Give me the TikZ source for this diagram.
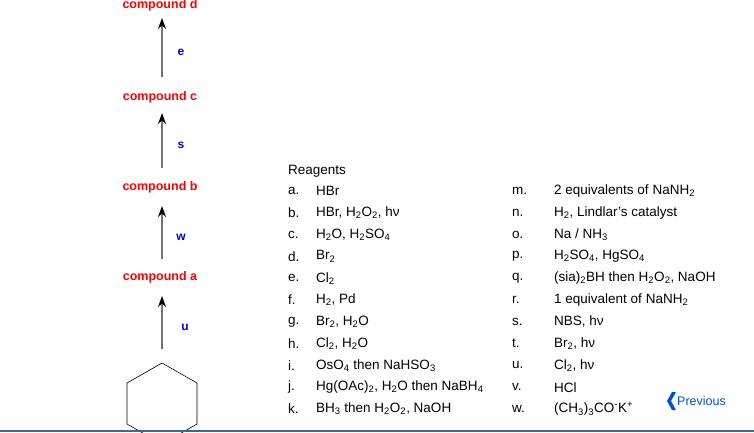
\documentclass[tikz,border=0pt]{standalone}
\usepackage{fontspec}
\setmainfont{Liberation Sans}
\usetikzlibrary{arrows.meta}
\newcommand{\sbs}[1]{\textsubscript{#1}}
\newcommand{\sps}[1]{\textsuperscript{#1}}
\begin{document}
\begin{tikzpicture}[x=1pt,y=-1pt,
  cmp/.style={text=red,font=\fontsize{12.5}{14}\selectfont\bfseries},
  lab/.style={text=blue!85!black,font=\fontsize{12}{14}\selectfont\bfseries},
  rx/.style={-{Stealth[length=11pt,width=8pt,color=black]},line width=1.4pt,draw=black!55},
  rg/.style={anchor=west,font=\fontsize{13.5}{15}\selectfont,inner sep=0pt}]
\useasboundingbox (0,0) rectangle (754,432);
\clip (0,0) rectangle (754,432);
\node[cmp] (d) at (160,5) {compound d};
\node[cmp] (c) at (160,97) {compound c};
\node[cmp] (b) at (160,187) {compound b};
\node[cmp] (a) at (160,277) {compound a};
\draw[rx] (162,77) -- (162,18);
\draw[rx] (162,168) -- (162,113);
\draw[rx] (162,259) -- (162,206);
\draw[rx] (162,349) -- (162,296);
\node[lab] at (181,52) {e};
\node[lab] at (181,145) {s};
\node[lab] at (181,237) {w};
\node[lab] at (185,327) {u};
\draw[line width=0.6pt] (162,363) -- (197,383) -- (197,424) -- (162,444) -- (127,424) -- (127,383) -- cycle;
\node[rg] at (288,171) {Reagents};
\foreach \l/\t [count=\i from 0] in {a./HBr, b./{HBr, H\sbs{2}O\sbs{2}, hν}, c./{H\sbs{2}O, H\sbs{2}SO\sbs{4}}, d./Br\sbs{2}, e./Cl\sbs{2}, f./{H\sbs{2}, Pd}, g./{Br\sbs{2}, H\sbs{2}O}, h./{Cl\sbs{2}, H\sbs{2}O}, i./{OsO\sbs{4} then NaHSO\sbs{3}}, j./{Hg(OAc)\sbs{2}, H\sbs{2}O then NaBH\sbs{4}}, k./{BH\sbs{3} then H\sbs{2}O\sbs{2}, NaOH}}{
  \node[rg] at (288,191+21.8*\i) {\l};
  \node[rg] at (316,191+21.8*\i) {\t};
}
\foreach \l/\t [count=\i from 0] in {m./{2 equivalents of NaNH\sbs{2}}, n./{H\sbs{2}, Lindlar's catalyst}, o./{Na / NH\sbs{3}}, p./{H\sbs{2}SO\sbs{4}, HgSO\sbs{4}}, q./{(sia)\sbs{2}BH then H\sbs{2}O\sbs{2}, NaOH}, r./{1 equivalent of NaNH\sbs{2}}, s./{NBS, hν}, t./{Br\sbs{2}, hν}, u./{Cl\sbs{2}, hν}, v./HCl, w./{(CH\sbs{3})\sbs{3}CO\sps{-}K\sps{+}}}{
  \node[rg] at (512,191+21.8*\i) {\l};
  \node[rg] at (554,191+21.8*\i) {\t};
}
\fill[blue!60!cyan!80!black] (672,392) -- (676,392) -- (671,401) -- (676,410) -- (672,410) -- (667,401) -- cycle;
\node[rg,text=blue!60!cyan!80!black,font=\fontsize{12.5}{14}\selectfont] (prev) at (677,401) {Previous};
\draw[line width=1.2pt,draw=cyan!50!blue!70!black] (0,431) -- (754,431);
\end{tikzpicture}
\end{document}
